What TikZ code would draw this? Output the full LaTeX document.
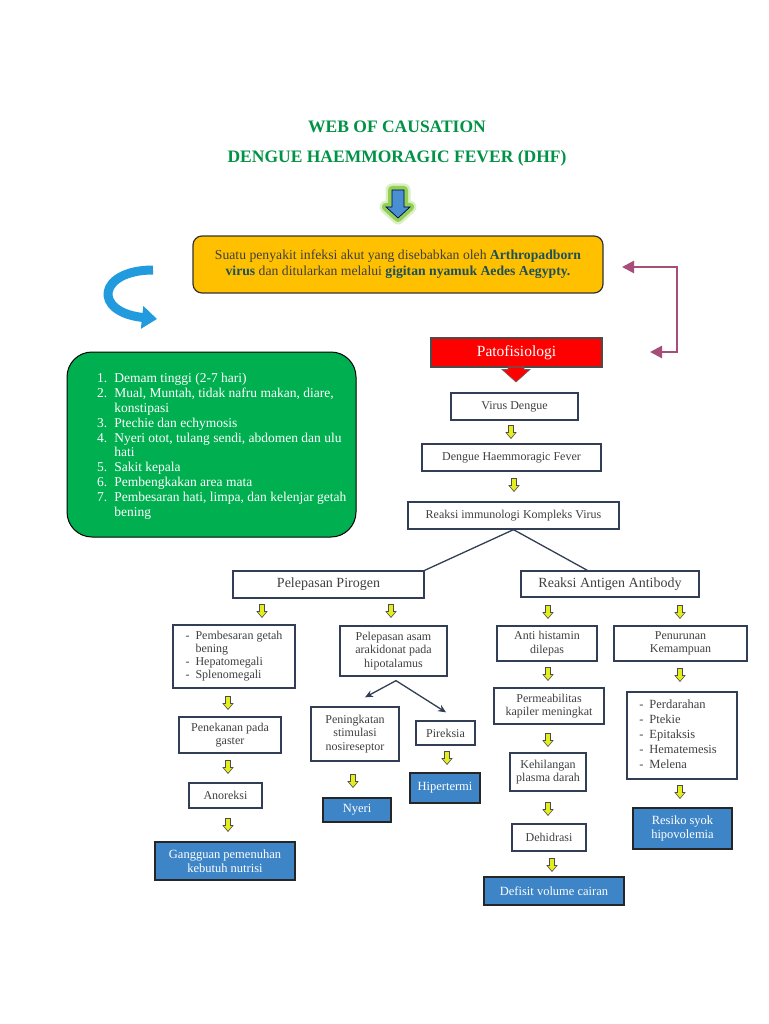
\documentclass[tikz,border=0pt]{standalone}
\usepackage{fontspec}
\setmainfont{Liberation Serif}
\usetikzlibrary{arrows.meta,calc}
\definecolor{titlegreen}{RGB}{0,146,69}
\definecolor{boxline}{RGB}{50,62,85}
\definecolor{txt}{RGB}{64,64,64}
\definecolor{bluebox}{RGB}{61,133,198}
\definecolor{yarr}{RGB}{228,238,30}
\definecolor{ybox}{RGB}{255,192,0}
\definecolor{gbox}{RGB}{0,176,80}
\definecolor{teal}{RGB}{30,80,90}
\definecolor{magenta}{RGB}{166,77,121}
\definecolor{curveblue}{RGB}{34,155,222}
\definecolor{glowgreen}{RGB}{146,208,80}
\definecolor{arrblue}{RGB}{74,143,208}
\begin{document}
\begin{tikzpicture}[x=1pt,y=-1pt,
  wbox/.style={draw=boxline, line width=1.3pt, fill=white, text=txt, align=center, inner sep=1pt, font=\fontsize{12}{13.5}\selectfont},
  bbox/.style={draw=black!85, line width=1.5pt, fill=bluebox, text=white, align=center, inner sep=1pt, font=\fontsize{12.5}{14.5}\selectfont},
  yarrpic/.pic={\draw[draw=black!70, fill=yarr, line width=0.6pt, line join=miter] (-2.5,-6.5) -- (2.5,-6.5) -- (2.5,0.5) -- (5,0.5) -- (0,6.5) -- (-5,0.5) -- (-2.5,0.5) -- cycle;},
  conn/.style={draw=boxline, line width=1.3pt},
  connarr/.style={draw=boxline, line width=1.3pt, -{Stealth[length=8pt,width=7pt]}}]
\useasboundingbox (0,0) rectangle (768,1024);
\fill[white] (0,0) rectangle (768,1024);

% titles
\node[text=titlegreen, font=\fontsize{17.5}{20}\selectfont\bfseries] (t1) at (397,127) {WEB OF CAUSATION};
\node[text=titlegreen, font=\fontsize{17.5}{20}\selectfont\bfseries] (t2) at (397,158) {DENGUE HAEMMORAGIC FEVER (DHF)};

% glowing down arrow
\filldraw[glowgreen!55, line width=13pt, line join=round, opacity=0.6] (392,190) -- (404,190) -- (404,207) -- (410,207) -- (398,218) -- (386,207) -- (392,207) -- cycle;
\filldraw[glowgreen, line width=8pt, line join=round] (392,190) -- (404,190) -- (404,207) -- (410,207) -- (398,218) -- (386,207) -- (392,207) -- cycle;
\filldraw[fill=arrblue, draw=blue!35!black, line width=0.7pt] (392,190) -- (404,190) -- (404,207) -- (410,207) -- (398,218) -- (386,207) -- (392,207) -- cycle;

% yellow box
\node[draw=black!80, line width=1.2pt, rounded corners=9pt, fill=ybox, minimum width=410pt, minimum height=57pt, align=center, text=black!75, font=\fontsize{13.7}{16}\selectfont] (ybox) at (398,264.5)
 {Suatu penyakit infeksi akut yang disebabkan oleh {\color{teal}\bfseries Arthropadborn}\\{\color{teal}\bfseries virus} dan ditularkan melalui {\color{teal}\bfseries gigitan nyamuk Aedes Aegypty.}};

% curved blue arrow
\coordinate (cs) at (153,270);
\coordinate (ce) at (157,319);
\draw[curveblue, line width=9pt, -{Triangle[width=22pt,length=15pt]}] (cs) .. controls (98,270) and (92,312) .. (ce);

% magenta bracket arrow
\coordinate (m1) at (622,267);
\coordinate (m2) at (677,267);
\coordinate (m3) at (677,352);
\coordinate (m4) at (650,352);
\draw[magenta, line width=2.6pt, {Triangle[width=12pt,length=12pt]}-{Triangle[width=12pt,length=12pt]}] (m1) -- (m2) -- (m3) -- (m4);

% green box
\node[draw=black, line width=1pt, rounded corners=25pt, fill=gbox, minimum width=289pt, minimum height=185pt] (gbox) at (211.5,444.5) {};
\node[anchor=west, text=white, font=\fontsize{13.5}{14.9}\selectfont, inner sep=0pt] (glist) at (97,446.5)
 {\begin{tabular}{@{}r@{\hspace{7pt}}l@{}}
 1. & Demam tinggi (2-7 hari)\\
 2. & Mual, Muntah, tidak nafru makan, diare,\\
    & konstipasi\\
 3. & Ptechie dan echymosis\\
 4. & Nyeri otot, tulang sendi, abdomen dan ulu\\
    & hati\\
 5. & Sakit kepala\\
 6. & Pembengkakan area mata\\
 7. & Pembesaran hati, limpa, dan kelenjar getah\\
    & bening
 \end{tabular}};

% Patofisiologi
\node[draw=black!70, line width=1.2pt, fill=red, text=white, minimum width=171pt, minimum height=29pt, font=\fontsize{15.5}{17}\selectfont] (pato) at (516.5,352.5) {Patofisiologi};
\filldraw[fill=red, draw=black!60, line width=0.6pt] (508,367) -- (524,367) -- (524,369.5) -- (530,369.5) -- (516,382) -- (502,369.5) -- (508,369.5) -- cycle;

% main chain
\node[wbox, minimum width=127pt, minimum height=27pt] (virus) at (514.5,406.5) {Virus Dengue};
\pic (ya1) at (511,432) {yarrpic};
\node[wbox, minimum width=179pt, minimum height=27pt] (dhf) at (511.5,457.5) {Dengue Haemmoragic Fever};
\pic (ya2) at (514,485) {yarrpic};
\node[wbox, minimum width=211pt, minimum height=27pt] (immun) at (513.5,515.5) {Reaksi immunologi Kompleks Virus};

\node[wbox, minimum width=191pt, minimum height=27pt, font=\fontsize{14}{15}\selectfont] (pirogen) at (328.5,584.5) {Pelepasan Pirogen};
\node[wbox, minimum width=178pt, minimum height=26pt, font=\fontsize{14}{15}\selectfont] (antigen) at (610,584) {Reaksi Antigen Antibody};
\coordinate (antL) at ($(antigen.north west)+(67,0)$);
\draw[conn] (immun.south) -- (pirogen.north east);
\draw[conn] (immun.south) -- (antL);

\pic (ya3) at (262,611) {yarrpic};
\pic (ya4) at (391,611) {yarrpic};
\pic (ya5) at (548,612) {yarrpic};
\pic (ya6) at (680,612) {yarrpic};

% second row
\node[wbox, minimum width=122pt, minimum height=63pt, font=\fontsize{12}{13}\selectfont] (lymph) at (234,656.5)
 {\begin{tabular}{@{}l@{\hspace{6pt}}l@{}}
 - & Pembesaran getah\\
   & bening\\
 - & Hepatomegali\\
 - & Splenomegali
 \end{tabular}};
\node[wbox, minimum width=107pt, minimum height=50pt] (asam) at (393.5,651) {Pelepasan asam\\arakidonat pada\\hipotalamus};
\node[wbox, minimum width=100pt, minimum height=35pt] (histamin) at (547,643.5) {Anti histamin\\dilepas};
\node[wbox, minimum width=133pt, minimum height=35pt] (penurunan) at (680.5,643.5) {Penurunan\\Kemampuan};

% left column
\pic (ya7) at (228,703) {yarrpic};
\node[wbox, minimum width=102pt, minimum height=36pt] (gaster) at (230,735) {Penekanan pada\\gaster};
\pic (ya8) at (228,767) {yarrpic};
\node[wbox, minimum width=73pt, minimum height=25pt] (anoreksi) at (225.5,795.5) {Anoreksi};
\pic (ya9) at (228,825) {yarrpic};
\node[bbox, minimum width=140pt, minimum height=38pt] (gangguan) at (225,861) {Gangguan pemenuhan\\kebutuh nutrisi};

% asam branches
\node[wbox, minimum width=88pt, minimum height=54pt] (nosi) at (355,734) {Peningkatan\\stimulasi\\nosireseptor};
\node[wbox, minimum width=59pt, minimum height=24pt] (pireksia) at (445.5,733) {Pireksia};
\coordinate (apexB) at ($(asam.south)+(2.5,4)$);
\coordinate (tipL) at ($(nosi.north)+(10,-9)$);
\coordinate (tipR) at ($(pireksia.north)+(0.5,-8)$);
\draw[connarr] (apexB) -- (tipL);
\draw[connarr] (apexB) -- (tipR);
\pic (ya10) at (353,781) {yarrpic};
\node[bbox, minimum width=68pt, minimum height=24pt] (nyeri) at (357,810) {Nyeri};
\pic (ya11) at (447,758) {yarrpic};
\node[bbox, minimum width=70pt, minimum height=30pt] (hiper) at (445,788) {Hipertermi};

% histamin column
\pic (ya12) at (548,674) {yarrpic};
\node[wbox, minimum width=110pt, minimum height=36pt] (permeab) at (549,706) {Permeabilitas\\kapiler meningkat};
\pic (ya13) at (548,740) {yarrpic};
\node[wbox, minimum width=76pt, minimum height=38pt] (kehilangan) at (548,772) {Kehilangan\\plasma darah};
\pic (ya14) at (548,809) {yarrpic};
\node[wbox, minimum width=74pt, minimum height=27pt] (dehidrasi) at (549,837.5) {Dehidrasi};
\pic (ya15) at (552,865) {yarrpic};
\node[bbox, minimum width=140pt, minimum height=28pt] (defisit) at (554,891) {Defisit volume cairan};

% penurunan column
\pic (ya16) at (680,675) {yarrpic};
\node[wbox, minimum width=110pt, minimum height=87pt, font=\fontsize{12.5}{15}\selectfont] (perdarahan) at (682,735.5)
 {\begin{tabular}{@{}l@{\hspace{6pt}}l@{}}
 - & Perdarahan\\
 - & Ptekie\\
 - & Epitaksis\\
 - & Hematemesis\\
 - & Melena
 \end{tabular}\hspace*{8pt}};
\pic (ya17) at (680,792) {yarrpic};
\node[bbox, minimum width=99pt, minimum height=41pt] (resiko) at (682.5,828.5) {Resiko syok\\hipovolemia};
\end{tikzpicture}
\end{document}
